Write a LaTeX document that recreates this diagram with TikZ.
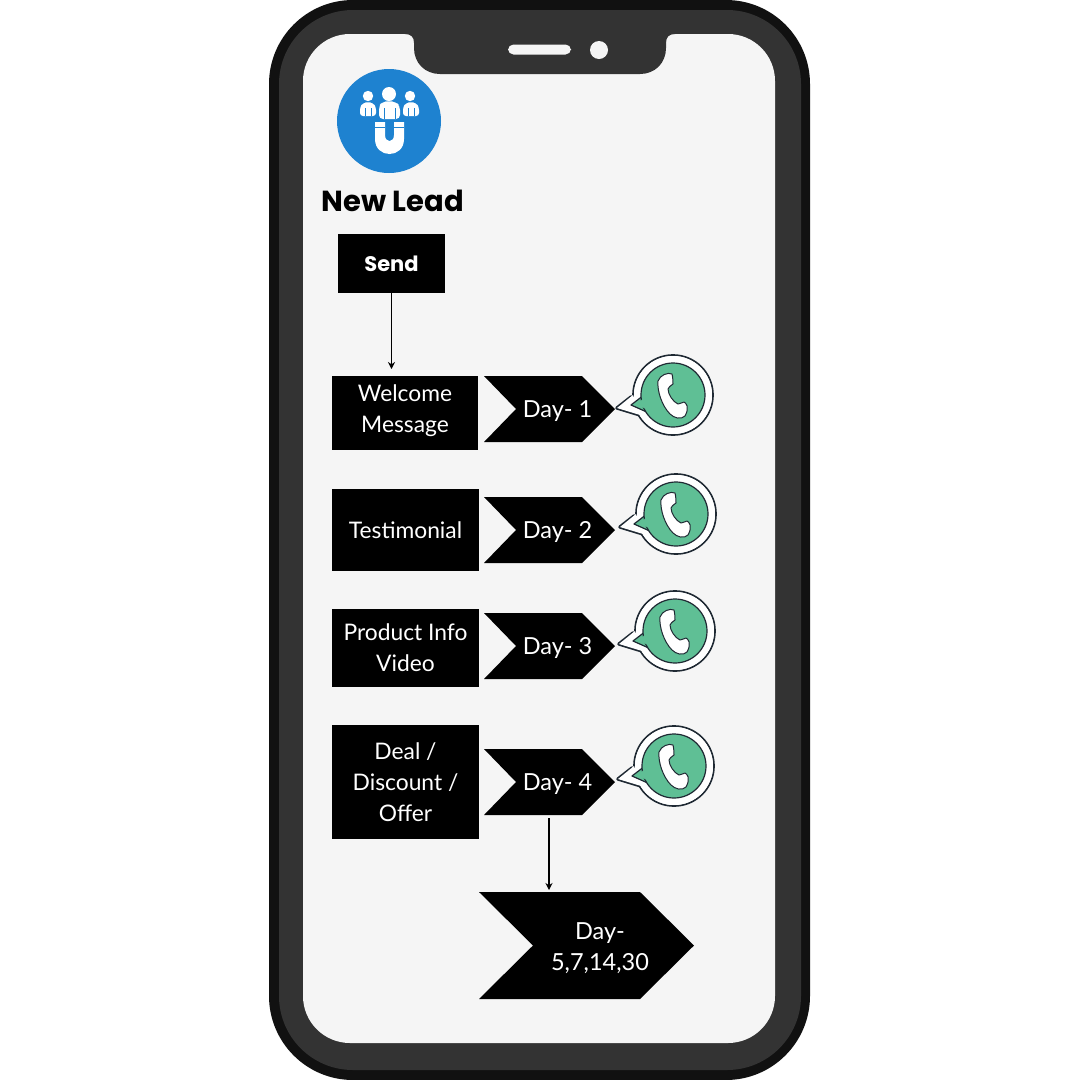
\documentclass[tikz,border=0pt]{standalone}
\usepackage{fontspec}
\setmainfont{Lato}
\newfontfamily\headfont{Poppins}
\definecolor{bodyout}{HTML}{111111}
\definecolor{bodyin}{HTML}{333333}
\definecolor{screen}{HTML}{F5F5F5}
\definecolor{leadblue}{HTML}{1E82D0}
\definecolor{wagreen}{HTML}{5FBF95}
\definecolor{wadark}{HTML}{1F2933}
\tikzset{
  msgbox/.style={fill=black,text=white,inner sep=0pt,align=center,font=\fontsize{22.8}{31}\selectfont},
  chevtext/.style={text=white,inner sep=0pt,align=center,font=\fontsize{23.5}{31}\selectfont},
  link/.style={draw=black,line width=1.5pt,-{Stealth[length=7pt,width=7pt]}},
  wapp/.pic={
    \path[draw=wadark,line width=3.4pt,line join=round,fill=white]
      (-56,13) -- (-42,2) -- (-33,20) -- cycle;
    \path[draw=wadark,line width=1.7pt,fill=white] (0,0) circle (40);
    \path[fill=white,line join=round]
      (-56,13) -- (-40,0) -- (-33,20) -- cycle;
    \path[fill=white] (0,0) circle (39);
    \path[fill=wagreen,draw=wadark,line width=1.2pt,line join=round] (-42,10) -- (-29,0) -- (-24,18) -- cycle;
    \path[fill=wagreen,draw=wadark,line width=1.2pt] (0,0) circle (32);
    \path[fill=wagreen] (-36,9) -- (-28,2) -- (-24,16) -- cycle;
    \path[fill=wagreen] (-27,-2) -- (-20,20) -- (-10,0) -- cycle;
    \path[draw=wadark,line width=1pt,fill=white,line join=round]
      (-15,-14) .. controls (-13,-20) and (-5,-23) .. (-1,-21)
      .. controls (0,-17) and (0,-13) .. (0,-11)
      .. controls (-2,-9) and (-5,-8) .. (-5,-6)
      .. controls (-5,-1) and (0,7) .. (5,9)
      .. controls (8,9) and (9,7) .. (11,7)
      .. controls (13,8) and (17,12) .. (12,21)
      .. controls (8,25) and (1,23) .. (-3,19)
      .. controls (-11,11) and (-16,-4) .. (-15,-14) -- cycle;
  }
}
\usetikzlibrary{arrows.meta}
\newcommand{\chevron}[5][]{% name, top y, label
  \path[fill=black] (484,#3) -- (582,#3) -- (615,#3+33) -- (582,#3+66) -- (484,#3+66) -- (516,#3+33) -- cycle;
  \node[chevtext] (#2) at (557.5,#3+35) {#4};
  \coordinate (#2b) at (549,#3+69);
}
\begin{document}
\begin{tikzpicture}[x=1pt,y=-1pt]
\useasboundingbox[fill=white] (0,0) rectangle (1080,1080);
% phone
\path[fill=bodyout,rounded corners=84pt] (269,0) rectangle (810,1080);
\path[fill=bodyin,rounded corners=74pt] (279,10) rectangle (801,1070);
\path[fill=screen,rounded corners=47pt] (303,34) rectangle (775,1043);
\path[fill=bodyin] (402,30) -- (405,34) .. controls (411,34) and (414,37) .. (414,43) -- (414,48)
  .. controls (414,63) and (425,74) .. (440,74) -- (640,74)
  .. controls (655,74) and (666,63) .. (666,48) -- (666,43)
  .. controls (666,37) and (669,34) .. (675,34) -- (678,30) -- cycle;
\path[fill=screen,rounded corners=5.5pt] (508,44.5) rectangle (571,54.5);
\path[fill=screen] (599,50) circle (9);
% lead icon
\path[fill=leadblue] (389,121) circle (52);
\path[fill=white] (389,94) circle (7);
\path[fill=white] (368,96) circle (5.2);
\path[fill=white] (410,96) circle (5.2);
\path[fill=white,rounded corners=4pt] (379,119) -- (379,106) -- (382,102) -- (389,101) -- (396,102) -- (400,106) -- (400,119) -- cycle;
\path[fill=white,rounded corners=3pt] (360,116) -- (360,107) -- (363,103) -- (368,102) -- (373,103) -- (376,107) -- (376,116) -- cycle;
\path[fill=white,rounded corners=3pt] (403,116) -- (403,107) -- (406,103) -- (411,102) -- (416,103) -- (419,107) -- (419,116) -- cycle;
\path[draw=leadblue,line width=.7pt] (384,108) -- (384,119) (395,108) -- (395,119)
  (365,108) -- (365,116) (371,108) -- (371,116) (408,108) -- (408,116) (414,108) -- (414,116);
\path[fill=white] (375,122) -- (385,122) -- (385,135) .. controls (385,143) and (394,143) .. (394,135) -- (394,122) -- (404,122) -- (404,139)
  .. controls (404,159) and (375,159) .. (375,139) -- cycle;
\path[draw=leadblue,line width=1pt] (375,127.5) -- (385,127.5) (394,127.5) -- (404,127.5);
\node[inner sep=0pt,font=\headfont\fontsize{29}{30}\selectfont\bfseries] (lead) at (393,201) {New Lead};
% boxes
\node[msgbox,minimum width=107pt,minimum height=59pt,font=\headfont\fontsize{21}{26}\selectfont\bfseries] (send) at (391.5,263.5) {Send};
\path[fill=black] (332,376) rectangle (478,450);
\node[text=white,inner sep=0pt,align=center,font=\fontsize{22.8}{31}\selectfont] (welcome) at (405,411) {Welcome\\Message};
\node[msgbox,minimum width=147pt,minimum height=82pt] (testi) at (405.5,530) {Testimonial};
\node[msgbox,minimum width=147pt,minimum height=78pt] (product) at (405.5,648) {Product Info\\Video};
\node[msgbox,minimum width=147pt,minimum height=114pt] (deal) at (405.5,782) {Deal /\\Discount /\\Offer};
% chevrons
\chevron{day1}{376}{Day- 1}{}
\chevron{day2}{497}{Day- 2}{}
\chevron{day3}{613}{Day- 3}{}
\chevron{day4}{749}{Day- 4}{}
\path[fill=black] (479,892) -- (640,892) -- (694,945.5) -- (640,999) -- (479,999) -- (533,945.5) -- cycle;
\node[chevtext] (day5) at (600,948) {Day-\\5,7,14,30};
% whatsapp
\pic at (673,395) {wapp};
\pic at (676,514) {wapp};
\pic at (675,631) {wapp};
\pic at (674,766) {wapp};
% connectors
\coordinate (welcomein) at (391.5,369);
\draw[link] (send.south) -- (welcomein);
\coordinate (day5in) at (549,890);
\draw[link] (day4b) -- (day5in);
\end{tikzpicture}
\end{document}
